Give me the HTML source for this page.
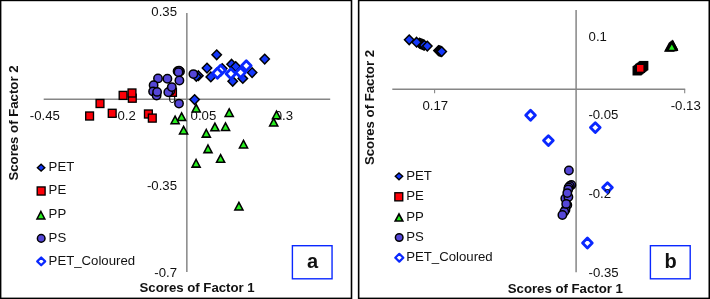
<!DOCTYPE html>
<html><head><meta charset="utf-8"><title>Scores plot</title>
<style>
html,body{margin:0;padding:0;background:#fff;}
svg{display:block;font-family:"Liberation Sans",sans-serif;fill:#111;}
</style></head><body>
<svg width="710" height="299" viewBox="0 0 710 299">
<rect width="710" height="299" fill="#fff"/>
<rect x="0.6" y="0.4" width="350.9" height="298" fill="#fff" stroke="#000" stroke-width="1.6"/>
<rect x="358.65" y="0.4" width="350.65" height="298" fill="#fff" stroke="#000" stroke-width="1.6"/>
<line x1="186.85" y1="13.1" x2="186.85" y2="272" stroke="#868686" stroke-width="1.5"/>
<line x1="43.7" y1="99.2" x2="330.2" y2="99.2" stroke="#868686" stroke-width="1.5"/>
<text x="177" y="16.1" text-anchor="end" font-size="13.2">0.35</text>
<text x="177" y="189.9" text-anchor="end" font-size="13.2">-0.35</text>
<text x="177" y="276.6" text-anchor="end" font-size="13.2">-0.7</text>
<text x="175.8" y="103.1" text-anchor="end" font-size="13.2">0</text>
<text x="29.8" y="120.1" text-anchor="start" font-size="13.2">-0.45</text>
<text x="135.8" y="119.9" text-anchor="end" font-size="13.2">-0.2</text>
<text x="190.6" y="119.7" text-anchor="start" font-size="13.2">0.05</text>
<text x="293" y="119.8" text-anchor="end" font-size="13.2">0.3</text>
<path d="M216.70 50.00L221.40 54.80L216.70 59.60L212.00 54.80Z" fill="#1438fa" stroke="#000" stroke-width="1.5" stroke-linejoin="miter"/>
<path d="M264.70 54.30L269.40 59.10L264.70 63.90L260.00 59.10Z" fill="#1438fa" stroke="#000" stroke-width="1.5" stroke-linejoin="miter"/>
<path d="M207.00 63.30L211.70 68.10L207.00 72.90L202.30 68.10Z" fill="#1438fa" stroke="#000" stroke-width="1.5" stroke-linejoin="miter"/>
<path d="M231.60 59.40L236.30 64.20L231.60 69.00L226.90 64.20Z" fill="#1438fa" stroke="#000" stroke-width="1.5" stroke-linejoin="miter"/>
<path d="M235.70 61.80L240.40 66.60L235.70 71.40L231.00 66.60Z" fill="#1438fa" stroke="#000" stroke-width="1.5" stroke-linejoin="miter"/>
<path d="M222.20 63.80L226.90 68.60L222.20 73.40L217.50 68.60Z" fill="#1438fa" stroke="#000" stroke-width="1.5" stroke-linejoin="miter"/>
<path d="M252.10 67.80L256.80 72.60L252.10 77.40L247.40 72.60Z" fill="#1438fa" stroke="#000" stroke-width="1.5" stroke-linejoin="miter"/>
<path d="M210.80 72.10L215.50 76.90L210.80 81.70L206.10 76.90Z" fill="#1438fa" stroke="#000" stroke-width="1.5" stroke-linejoin="miter"/>
<path d="M198.40 70.90L203.10 75.70L198.40 80.50L193.70 75.70Z" fill="#1438fa" stroke="#000" stroke-width="1.5" stroke-linejoin="miter"/>
<path d="M196.30 71.50L201.00 76.30L196.30 81.10L191.60 76.30Z" fill="#1438fa" stroke="#000" stroke-width="1.5" stroke-linejoin="miter"/>
<path d="M242.80 73.70L247.50 78.50L242.80 83.30L238.10 78.50Z" fill="#1438fa" stroke="#000" stroke-width="1.5" stroke-linejoin="miter"/>
<path d="M232.70 76.50L237.40 81.30L232.70 86.10L228.00 81.30Z" fill="#1438fa" stroke="#000" stroke-width="1.5" stroke-linejoin="miter"/>
<path d="M194.60 94.80L199.30 99.60L194.60 104.40L189.90 99.60Z" fill="#1438fa" stroke="#000" stroke-width="1.5" stroke-linejoin="miter"/>
<rect x="85.70" y="112.00" width="7.8" height="8.0" fill="#fd0008" stroke="#000" stroke-width="1.35"/>
<rect x="96.10" y="99.50" width="7.8" height="8.0" fill="#fd0008" stroke="#000" stroke-width="1.35"/>
<rect x="108.30" y="109.30" width="7.8" height="8.0" fill="#fd0008" stroke="#000" stroke-width="1.35"/>
<rect x="119.20" y="91.40" width="7.8" height="8.0" fill="#fd0008" stroke="#000" stroke-width="1.35"/>
<rect x="128.40" y="94.20" width="7.8" height="8.0" fill="#fd0008" stroke="#000" stroke-width="1.35"/>
<rect x="128.10" y="89.00" width="7.8" height="8.0" fill="#fd0008" stroke="#000" stroke-width="1.35"/>
<rect x="144.50" y="110.00" width="7.8" height="8.0" fill="#fd0008" stroke="#000" stroke-width="1.35"/>
<rect x="148.40" y="114.10" width="7.8" height="8.0" fill="#fd0008" stroke="#000" stroke-width="1.35"/>
<rect x="168.60" y="88.30" width="7.8" height="8.0" fill="#fd0008" stroke="#000" stroke-width="1.35"/>
<path d="M196.20 104.40L200.25 112.00L192.15 112.00Z" fill="#26ee1e" stroke="#000" stroke-width="1.55" stroke-linejoin="miter"/>
<path d="M181.60 112.80L185.65 120.40L177.55 120.40Z" fill="#26ee1e" stroke="#000" stroke-width="1.55" stroke-linejoin="miter"/>
<path d="M175.10 116.10L179.15 123.70L171.05 123.70Z" fill="#26ee1e" stroke="#000" stroke-width="1.55" stroke-linejoin="miter"/>
<path d="M183.60 126.30L187.65 133.90L179.55 133.90Z" fill="#26ee1e" stroke="#000" stroke-width="1.55" stroke-linejoin="miter"/>
<path d="M229.20 108.90L233.25 116.50L225.15 116.50Z" fill="#26ee1e" stroke="#000" stroke-width="1.55" stroke-linejoin="miter"/>
<path d="M214.90 123.20L218.95 130.80L210.85 130.80Z" fill="#26ee1e" stroke="#000" stroke-width="1.55" stroke-linejoin="miter"/>
<path d="M225.50 122.90L229.55 130.50L221.45 130.50Z" fill="#26ee1e" stroke="#000" stroke-width="1.55" stroke-linejoin="miter"/>
<path d="M206.30 129.50L210.35 137.10L202.25 137.10Z" fill="#26ee1e" stroke="#000" stroke-width="1.55" stroke-linejoin="miter"/>
<path d="M276.50 111.10L280.55 118.70L272.45 118.70Z" fill="#26ee1e" stroke="#000" stroke-width="1.55" stroke-linejoin="miter"/>
<path d="M273.70 118.30L277.75 125.90L269.65 125.90Z" fill="#26ee1e" stroke="#000" stroke-width="1.55" stroke-linejoin="miter"/>
<path d="M243.50 140.30L247.55 147.90L239.45 147.90Z" fill="#26ee1e" stroke="#000" stroke-width="1.55" stroke-linejoin="miter"/>
<path d="M208.00 145.00L212.05 152.60L203.95 152.60Z" fill="#26ee1e" stroke="#000" stroke-width="1.55" stroke-linejoin="miter"/>
<path d="M220.60 154.70L224.65 162.30L216.55 162.30Z" fill="#26ee1e" stroke="#000" stroke-width="1.55" stroke-linejoin="miter"/>
<path d="M196.10 159.50L200.15 167.10L192.05 167.10Z" fill="#26ee1e" stroke="#000" stroke-width="1.55" stroke-linejoin="miter"/>
<path d="M238.90 202.40L242.95 210.00L234.85 210.00Z" fill="#26ee1e" stroke="#000" stroke-width="1.55" stroke-linejoin="miter"/>
<circle cx="177.60" cy="71.20" r="4.2" fill="#5546d7" stroke="#000" stroke-width="1.5"/>
<circle cx="180.00" cy="71.40" r="4.2" fill="#5546d7" stroke="#000" stroke-width="1.5"/>
<circle cx="179.00" cy="70.80" r="4.2" fill="#5546d7" stroke="#000" stroke-width="1.5"/>
<circle cx="178.50" cy="72.30" r="4.2" fill="#5546d7" stroke="#000" stroke-width="1.5"/>
<circle cx="179.40" cy="80.50" r="4.2" fill="#5546d7" stroke="#000" stroke-width="1.5"/>
<circle cx="158.00" cy="78.40" r="4.2" fill="#5546d7" stroke="#000" stroke-width="1.5"/>
<circle cx="167.40" cy="78.70" r="4.2" fill="#5546d7" stroke="#000" stroke-width="1.5"/>
<circle cx="153.60" cy="85.20" r="4.2" fill="#5546d7" stroke="#000" stroke-width="1.5"/>
<circle cx="153.10" cy="91.50" r="4.2" fill="#5546d7" stroke="#000" stroke-width="1.5"/>
<circle cx="156.60" cy="95.60" r="4.2" fill="#5546d7" stroke="#000" stroke-width="1.5"/>
<circle cx="157.10" cy="91.90" r="4.2" fill="#5546d7" stroke="#000" stroke-width="1.5"/>
<circle cx="170.30" cy="90.90" r="4.2" fill="#5546d7" stroke="#000" stroke-width="1.5"/>
<circle cx="168.30" cy="92.20" r="4.2" fill="#5546d7" stroke="#000" stroke-width="1.5"/>
<circle cx="171.80" cy="87.10" r="4.2" fill="#5546d7" stroke="#000" stroke-width="1.5"/>
<circle cx="179.00" cy="103.60" r="4.2" fill="#5546d7" stroke="#000" stroke-width="1.5"/>
<circle cx="193.40" cy="74.10" r="4.2" fill="#5546d7" stroke="#000" stroke-width="1.5"/>
<path d="M220.60 65.35L225.45 70.30L220.60 75.25L215.75 70.30Z" fill="#fff" stroke="#0a28ff" stroke-width="2.8" stroke-linejoin="round"/>
<path d="M217.40 68.25L222.25 73.20L217.40 78.15L212.55 73.20Z" fill="#fff" stroke="#0a28ff" stroke-width="2.8" stroke-linejoin="round"/>
<path d="M230.90 68.85L235.75 73.80L230.90 78.75L226.05 73.80Z" fill="#fff" stroke="#0a28ff" stroke-width="2.8" stroke-linejoin="round"/>
<path d="M240.60 67.65L245.45 72.60L240.60 77.55L235.75 72.60Z" fill="#fff" stroke="#0a28ff" stroke-width="2.8" stroke-linejoin="round"/>
<path d="M246.30 60.85L251.15 65.80L246.30 70.75L241.45 65.80Z" fill="#fff" stroke="#0a28ff" stroke-width="2.8" stroke-linejoin="round"/>
<path d="M41.10 164.30L44.80 167.70L41.10 171.10L37.40 167.70Z" fill="#1438fa" stroke="#000" stroke-width="1.4" stroke-linejoin="miter"/>
<text x="48.6" y="171.2" text-anchor="start" font-size="13.2">PET</text>
<rect x="37.20" y="186.95" width="7.9" height="8.1" fill="#fd0008" stroke="#000" stroke-width="1.35"/>
<text x="48.6" y="194.4" text-anchor="start" font-size="13.2">PE</text>
<path d="M40.90 211.50L44.80 219.00L37.00 219.00Z" fill="#26ee1e" stroke="#000" stroke-width="1.55" stroke-linejoin="miter"/>
<text x="48.6" y="217.9" text-anchor="start" font-size="13.2">PP</text>
<circle cx="41.20" cy="238.40" r="3.8" fill="#5546d7" stroke="#000" stroke-width="1.5"/>
<text x="48.6" y="241.5" text-anchor="start" font-size="13.2">PS</text>
<path d="M41.20 257.50L45.20 261.40L41.20 265.30L37.20 261.40Z" fill="#fff" stroke="#0a28ff" stroke-width="2.2" stroke-linejoin="round"/>
<text x="48.6" y="265.2" text-anchor="start" font-size="13.2">PET_Coloured</text>
<text x="197.1" y="291.7" text-anchor="middle" font-size="13.2" font-weight="bold">Scores of Factor 1</text>
<text x="0" y="0" text-anchor="middle" font-size="13.2" font-weight="bold" transform="translate(18.1 123) rotate(-90)">Scores of Factor 2</text>
<rect x="292.4" y="245.7" width="39.65" height="33.1" fill="#fff" stroke="#0a28ff" stroke-width="1.4"/>
<text x="312.6" y="267.7" text-anchor="middle" font-size="20" font-weight="bold">a</text>
<line x1="576.1" y1="10" x2="576.1" y2="272.3" stroke="#868686" stroke-width="1.5"/>
<line x1="392.3" y1="89.2" x2="685.2" y2="89.2" stroke="#868686" stroke-width="1.5"/>
<line x1="434.6" y1="89.2" x2="434.6" y2="93.3" stroke="#868686" stroke-width="1.1"/>
<line x1="684.7" y1="89.2" x2="684.7" y2="93.3" stroke="#868686" stroke-width="1.1"/>
<path d="M409.20 35.00L413.90 39.80L409.20 44.60L404.50 39.80Z" fill="#1438fa" stroke="#000" stroke-width="1.5" stroke-linejoin="miter"/>
<path d="M419.50 38.40L424.20 43.20L419.50 48.00L414.80 43.20Z" fill="#1438fa" stroke="#000" stroke-width="1.5" stroke-linejoin="miter"/>
<path d="M420.50 38.80L425.20 43.60L420.50 48.40L415.80 43.60Z" fill="#1438fa" stroke="#000" stroke-width="1.5" stroke-linejoin="miter"/>
<path d="M421.50 39.20L426.20 44.00L421.50 48.80L416.80 44.00Z" fill="#1438fa" stroke="#000" stroke-width="1.5" stroke-linejoin="miter"/>
<path d="M422.50 39.60L427.20 44.40L422.50 49.20L417.80 44.40Z" fill="#1438fa" stroke="#000" stroke-width="1.5" stroke-linejoin="miter"/>
<path d="M423.50 40.00L428.20 44.80L423.50 49.60L418.80 44.80Z" fill="#1438fa" stroke="#000" stroke-width="1.5" stroke-linejoin="miter"/>
<path d="M424.30 40.40L429.00 45.20L424.30 50.00L419.60 45.20Z" fill="#1438fa" stroke="#000" stroke-width="1.5" stroke-linejoin="miter"/>
<path d="M416.60 37.40L421.30 42.20L416.60 47.00L411.90 42.20Z" fill="#1438fa" stroke="#000" stroke-width="1.5" stroke-linejoin="miter"/>
<path d="M427.30 41.30L432.00 46.10L427.30 50.90L422.60 46.10Z" fill="#1438fa" stroke="#000" stroke-width="1.5" stroke-linejoin="miter"/>
<path d="M438.50 45.80L443.20 50.60L438.50 55.40L433.80 50.60Z" fill="#1438fa" stroke="#000" stroke-width="1.5" stroke-linejoin="miter"/>
<path d="M439.30 46.10L444.00 50.90L439.30 55.70L434.60 50.90Z" fill="#1438fa" stroke="#000" stroke-width="1.5" stroke-linejoin="miter"/>
<path d="M440.10 46.30L444.80 51.10L440.10 55.90L435.40 51.10Z" fill="#1438fa" stroke="#000" stroke-width="1.5" stroke-linejoin="miter"/>
<path d="M440.90 46.60L445.60 51.40L440.90 56.20L436.20 51.40Z" fill="#1438fa" stroke="#000" stroke-width="1.5" stroke-linejoin="miter"/>
<path d="M441.70 46.80L446.40 51.60L441.70 56.40L437.00 51.60Z" fill="#1438fa" stroke="#000" stroke-width="1.5" stroke-linejoin="miter"/>
<rect x="633.20" y="66.80" width="7.8" height="8.0" fill="#000" stroke="#000" stroke-width="1.35"/>
<rect x="634.04" y="66.15" width="7.8" height="8.0" fill="#000" stroke="#000" stroke-width="1.35"/>
<rect x="634.88" y="65.50" width="7.8" height="8.0" fill="#000" stroke="#000" stroke-width="1.35"/>
<rect x="635.71" y="64.85" width="7.8" height="8.0" fill="#000" stroke="#000" stroke-width="1.35"/>
<rect x="636.55" y="64.20" width="7.8" height="8.0" fill="#000" stroke="#000" stroke-width="1.35"/>
<rect x="637.39" y="63.55" width="7.8" height="8.0" fill="#000" stroke="#000" stroke-width="1.35"/>
<rect x="638.23" y="62.90" width="7.8" height="8.0" fill="#000" stroke="#000" stroke-width="1.35"/>
<rect x="639.06" y="62.25" width="7.8" height="8.0" fill="#000" stroke="#000" stroke-width="1.35"/>
<rect x="639.90" y="61.60" width="7.8" height="8.0" fill="#000" stroke="#000" stroke-width="1.35"/>
<rect x="636.30" y="64.30" width="7.8" height="8.0" fill="#fd0008" stroke="#000" stroke-width="1.35"/>
<path d="M669.30 43.40L673.35 51.00L665.25 51.00Z" fill="#26ee1e" stroke="#000" stroke-width="1.55" stroke-linejoin="miter"/>
<path d="M670.20 42.90L674.25 50.50L666.15 50.50Z" fill="#26ee1e" stroke="#000" stroke-width="1.55" stroke-linejoin="miter"/>
<path d="M671.00 42.10L675.05 49.70L666.95 49.70Z" fill="#26ee1e" stroke="#000" stroke-width="1.55" stroke-linejoin="miter"/>
<path d="M672.00 41.50L676.05 49.10L667.95 49.10Z" fill="#26ee1e" stroke="#000" stroke-width="1.55" stroke-linejoin="miter"/>
<path d="M672.70 41.10L676.75 48.70L668.65 48.70Z" fill="#26ee1e" stroke="#000" stroke-width="1.55" stroke-linejoin="miter"/>
<path d="M673.00 41.80L677.05 49.40L668.95 49.40Z" fill="#26ee1e" stroke="#000" stroke-width="1.55" stroke-linejoin="miter"/>
<path d="M673.00 42.50L677.05 50.10L668.95 50.10Z" fill="#26ee1e" stroke="#000" stroke-width="1.55" stroke-linejoin="miter"/>
<path d="M672.40 42.50L676.45 50.10L668.35 50.10Z" fill="#26ee1e" stroke="#000" stroke-width="1.55" stroke-linejoin="miter"/>
<path d="M671.80 42.90L675.85 50.50L667.75 50.50Z" fill="#26ee1e" stroke="#000" stroke-width="1.55" stroke-linejoin="miter"/>
<circle cx="568.90" cy="170.50" r="4.2" fill="#5546d7" stroke="#000" stroke-width="1.5"/>
<circle cx="571.40" cy="184.90" r="4.2" fill="#5546d7" stroke="#000" stroke-width="1.5"/>
<circle cx="569.80" cy="186.00" r="4.2" fill="#5546d7" stroke="#000" stroke-width="1.5"/>
<circle cx="568.60" cy="187.50" r="4.2" fill="#5546d7" stroke="#000" stroke-width="1.5"/>
<circle cx="568.20" cy="189.50" r="4.2" fill="#5546d7" stroke="#000" stroke-width="1.5"/>
<circle cx="565.30" cy="198.40" r="4.2" fill="#5546d7" stroke="#000" stroke-width="1.5"/>
<circle cx="568.40" cy="197.00" r="4.2" fill="#5546d7" stroke="#000" stroke-width="1.5"/>
<circle cx="567.30" cy="205.00" r="4.2" fill="#5546d7" stroke="#000" stroke-width="1.5"/>
<circle cx="565.50" cy="209.80" r="4.2" fill="#5546d7" stroke="#000" stroke-width="1.5"/>
<circle cx="564.30" cy="211.80" r="4.2" fill="#5546d7" stroke="#000" stroke-width="1.5"/>
<circle cx="567.30" cy="193.10" r="4.2" fill="#5546d7" stroke="#000" stroke-width="1.5"/>
<circle cx="566.20" cy="203.90" r="4.2" fill="#5546d7" stroke="#000" stroke-width="1.5"/>
<circle cx="562.40" cy="215.00" r="4.2" fill="#5546d7" stroke="#000" stroke-width="1.5"/>
<path d="M530.55 110.30L535.40 115.25L530.55 120.20L525.70 115.25Z" fill="#fff" stroke="#0a28ff" stroke-width="2.8" stroke-linejoin="round"/>
<path d="M548.40 135.65L553.25 140.60L548.40 145.55L543.55 140.60Z" fill="#fff" stroke="#0a28ff" stroke-width="2.8" stroke-linejoin="round"/>
<path d="M595.30 122.65L600.15 127.60L595.30 132.55L590.45 127.60Z" fill="#fff" stroke="#0a28ff" stroke-width="2.8" stroke-linejoin="round"/>
<path d="M607.50 182.65L612.35 187.60L607.50 192.55L602.65 187.60Z" fill="#fff" stroke="#0a28ff" stroke-width="2.8" stroke-linejoin="round"/>
<path d="M587.40 238.05L592.25 243.00L587.40 247.95L582.55 243.00Z" fill="#fff" stroke="#0a28ff" stroke-width="2.8" stroke-linejoin="round"/>
<text x="588.6" y="40.5" text-anchor="start" font-size="13.2">0.1</text>
<text x="588.4" y="119.0" text-anchor="start" font-size="13.2">-0.05</text>
<text x="588.4" y="198.1" text-anchor="start" font-size="13.2">-0.2</text>
<text x="588.6" y="276.7" text-anchor="start" font-size="13.2">-0.35</text>
<text x="422.4" y="109.8" text-anchor="start" font-size="13.2">0.17</text>
<text x="670.7" y="109.9" text-anchor="start" font-size="13.2">-0.13</text>
<path d="M399.00 172.90L402.70 176.30L399.00 179.70L395.30 176.30Z" fill="#1438fa" stroke="#000" stroke-width="1.4" stroke-linejoin="miter"/>
<text x="406.2" y="179.7" text-anchor="start" font-size="13.2">PET</text>
<rect x="394.85" y="192.75" width="7.9" height="8.1" fill="#fd0008" stroke="#000" stroke-width="1.35"/>
<text x="406.2" y="200.0" text-anchor="start" font-size="13.2">PE</text>
<path d="M399.00 214.00L402.80 221.00L395.20 221.00Z" fill="#26ee1e" stroke="#000" stroke-width="1.6" stroke-linejoin="miter"/>
<text x="406.2" y="220.7" text-anchor="start" font-size="13.2">PP</text>
<circle cx="399.20" cy="237.50" r="3.8" fill="#5546d7" stroke="#000" stroke-width="1.5"/>
<text x="406.2" y="241.3" text-anchor="start" font-size="13.2">PS</text>
<path d="M399.30 253.80L403.30 257.70L399.30 261.60L395.30 257.70Z" fill="#fff" stroke="#0a28ff" stroke-width="2.2" stroke-linejoin="round"/>
<text x="406.2" y="261.0" text-anchor="start" font-size="13.2">PET_Coloured</text>
<text x="565.3" y="292.7" text-anchor="middle" font-size="13.2" font-weight="bold">Scores of Factor 1</text>
<text x="0" y="0" text-anchor="middle" font-size="13.2" font-weight="bold" transform="translate(374.4 107.5) rotate(-90)">Scores of Factor 2</text>
<rect x="650.4" y="245.7" width="39.8" height="33.1" fill="#fff" stroke="#0a28ff" stroke-width="1.4"/>
<text x="670.7" y="267.9" text-anchor="middle" font-size="20" font-weight="bold">b</text>
</svg>
</body></html>
